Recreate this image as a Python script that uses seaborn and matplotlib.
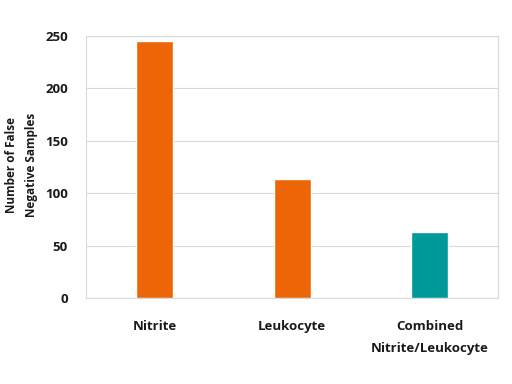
import matplotlib
matplotlib.use("Agg")
import matplotlib.pyplot as plt
import seaborn as sns
import pandas as pd

categories = ["Nitrite", "Leukocyte", "Combined\nNitrite/Leukocyte"]
false_negatives = [245, 114, 63]
bar_colors = ["#EC6608", "#EC6608", "#009999"]

sns.set_theme(style="white")
plt.rcParams["font.family"] = ["Open Sans", "DejaVu Sans"]

df = pd.DataFrame({"test": categories, "count": false_negatives})

fig = plt.figure(figsize=(5.12, 3.84), dpi=100)
ax = fig.add_axes([0.168, 0.224, 0.805, 0.682])
sns.barplot(data=df, x="test", y="count", hue="test", palette=bar_colors,
            width=0.27, saturation=1, legend=False, ax=ax)

ax.set_ylim(0, 250)
ax.set_yticks([0, 50, 100, 150, 200, 250])
ax.yaxis.grid(True, color="#d9d9d9", linewidth=0.8)
ax.set_axisbelow(True)
for s in ax.spines.values():
    s.set_color("#d9d9d9")
    s.set_linewidth(0.8)
ax.tick_params(axis="both", length=0, labelsize=9.5, colors="#1a1a1a")
ax.tick_params(axis="x", pad=16)
ax.tick_params(axis="y", pad=13)
for lbl in ax.get_xticklabels() + ax.get_yticklabels():
    lbl.set_fontweight("bold")
for lbl in ax.get_xticklabels():
    lbl.set_linespacing(1.9)
ax.set_xlabel("")
ax.set_ylabel("")
# y label placed on the figure so it stays inside the left edge
fig.text(22 / 512, 1 - 165 / 384, "Number of False\nNegative Samples",
         rotation=90, ha="center", va="center", fontsize=8.5,
         fontweight="bold", color="#1a1a1a", linespacing=1.7)

fig.savefig("out.png", dpi=100)
